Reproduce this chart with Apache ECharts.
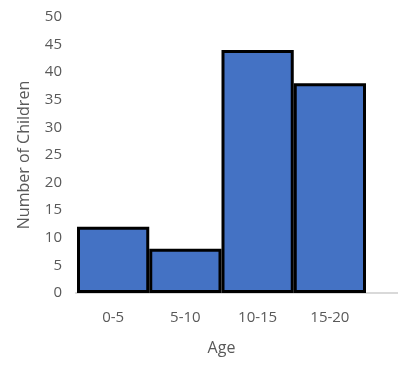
<!DOCTYPE html>
<html><head><meta charset="utf-8">
<script src="https://cdn.jsdelivr.net/npm/echarts@6/dist/echarts.min.js"></script>
<style>html,body{margin:0;padding:0;background:#fff}#c{width:398px;height:366px}</style>
</head><body><div id="c"></div>
<script>
var categories = ['0-5', '5-10', '10-15', '15-20'];
var childrenCounts = [12, 8, 44, 38];
var yTicks = [0, 5, 10, 15, 20, 25, 30, 35, 40, 45, 50];

var chart = echarts.init(document.getElementById('c'), null, {renderer: 'canvas'});
var font = '"Open Sans", "Liberation Sans", sans-serif';
chart.setOption({
  animation: false,
  grid: [
    {left: 77, right: 32, top: 17, bottom: 73},
    {left: 76, right: 0, top: 17, bottom: 73}
  ],
  xAxis: [
    {
      type: 'category', gridIndex: 0, data: categories,
      axisLine: {show: false}, axisTick: {show: false},
      axisLabel: {color: '#595959', fontSize: 15, fontFamily: font, margin: 17},
      name: 'Age', nameLocation: 'middle', nameGap: 47,
      nameTextStyle: {color: '#595959', fontSize: 16, fontFamily: font}
    },
    {
      type: 'value', gridIndex: 1, min: 0, max: 1,
      axisLine: {show: true, lineStyle: {color: '#d9d9d9', width: 2}},
      axisTick: {show: false}, axisLabel: {show: false}, splitLine: {show: false}
    }
  ],
  yAxis: [
    {
      type: 'value', gridIndex: 0, min: yTicks[0], max: yTicks[yTicks.length - 1], interval: 5,
      axisLine: {show: false}, axisTick: {show: false}, splitLine: {show: false},
      axisLabel: {color: '#595959', fontSize: 15, fontFamily: font, margin: 15},
      name: 'Number of Children', nameLocation: 'middle', nameGap: 45,
      nameTextStyle: {color: '#595959', fontSize: 16, fontFamily: font}
    },
    {
      type: 'value', gridIndex: 1, show: false
    }
  ],
  series: [{
    type: 'bar', xAxisIndex: 0, yAxisIndex: 0,
    data: childrenCounts,
    barCategoryGap: '0%',
    itemStyle: {color: '#4472C4', borderColor: '#000', borderWidth: 3}
  }]
});
</script></body></html>
